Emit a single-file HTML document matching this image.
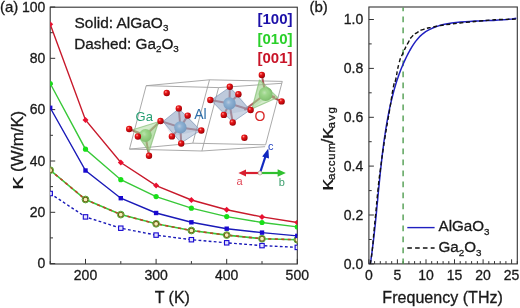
<!DOCTYPE html>
<html><head><meta charset="utf-8"><title>AlGaO3 thermal conductivity</title>
<style>
html,body{margin:0;padding:0;background:#fff;}
body{width:520px;height:308px;overflow:hidden;}
svg{display:block;font-family:"Liberation Sans",Arial,sans-serif;}
text{stroke:#1a1a1a;stroke-width:0.3px;}
.c14,.c14o,.t11,.b14{stroke:none;}
.t14{font-size:14px;fill:#1a1a1a;}
.t145{font-size:15.2px;fill:#1a1a1a;}
.t15{font-size:15.3px;fill:#1a1a1a;}
.t15b{font-size:15px;fill:#1a1a1a;}
.t16{font-size:16px;fill:#1a1a1a;}
.t17{font-size:17px;fill:#1a1a1a;}
.sub3{font-size:12.5px;}
.sub3t{font-size:11.5px;fill:#1a1a1a;}
.t11{font-size:11px;}
.c14{font-size:13.2px;}
.c14o{font-size:14px;}
.b14{font-size:15px;font-weight:bold;}
.sub{font-size:9.8px;}
.sub2{font-size:11px;}
</style></head>
<body>
<svg width="520" height="308" viewBox="0 0 520 308">
<rect width="520" height="308" fill="#fff"/>
<rect x="50.2" y="7.2" width="247.1" height="256.8" fill="none" stroke="#333" stroke-width="1.1"/>
<line x1="50.2" y1="263.6" x2="55.2" y2="263.6" stroke="#333" stroke-width="1"/>
<line x1="50.2" y1="237.9" x2="53.0" y2="237.9" stroke="#333" stroke-width="1"/>
<line x1="50.2" y1="212.3" x2="55.2" y2="212.3" stroke="#333" stroke-width="1"/>
<line x1="50.2" y1="186.6" x2="53.0" y2="186.6" stroke="#333" stroke-width="1"/>
<line x1="50.2" y1="161.0" x2="55.2" y2="161.0" stroke="#333" stroke-width="1"/>
<line x1="50.2" y1="135.3" x2="53.0" y2="135.3" stroke="#333" stroke-width="1"/>
<line x1="50.2" y1="109.6" x2="55.2" y2="109.6" stroke="#333" stroke-width="1"/>
<line x1="50.2" y1="84.0" x2="53.0" y2="84.0" stroke="#333" stroke-width="1"/>
<line x1="50.2" y1="58.3" x2="55.2" y2="58.3" stroke="#333" stroke-width="1"/>
<line x1="50.2" y1="32.7" x2="53.0" y2="32.7" stroke="#333" stroke-width="1"/>
<line x1="50.2" y1="7.0" x2="55.2" y2="7.0" stroke="#333" stroke-width="1"/>
<line x1="50.2" y1="263.90000000000003" x2="50.2" y2="261.1" stroke="#333" stroke-width="1"/>
<line x1="85.5" y1="263.90000000000003" x2="85.5" y2="258.90000000000003" stroke="#333" stroke-width="1"/>
<line x1="120.8" y1="263.90000000000003" x2="120.8" y2="261.1" stroke="#333" stroke-width="1"/>
<line x1="156.1" y1="263.90000000000003" x2="156.1" y2="258.90000000000003" stroke="#333" stroke-width="1"/>
<line x1="191.4" y1="263.90000000000003" x2="191.4" y2="261.1" stroke="#333" stroke-width="1"/>
<line x1="226.7" y1="263.90000000000003" x2="226.7" y2="258.90000000000003" stroke="#333" stroke-width="1"/>
<line x1="262.0" y1="263.90000000000003" x2="262.0" y2="261.1" stroke="#333" stroke-width="1"/>
<line x1="297.3" y1="263.90000000000003" x2="297.3" y2="258.90000000000003" stroke="#333" stroke-width="1"/>
<text x="45.300000000000004" y="268.3" text-anchor="end" class="t14">0</text>
<text x="45.300000000000004" y="217.0" text-anchor="end" class="t14">20</text>
<text x="45.300000000000004" y="165.7" text-anchor="end" class="t14">40</text>
<text x="45.300000000000004" y="114.3" text-anchor="end" class="t14">60</text>
<text x="45.300000000000004" y="63.0" text-anchor="end" class="t14">80</text>
<text x="45.300000000000004" y="11.7" text-anchor="end" class="t14">100</text>
<text x="85.5" y="280" text-anchor="middle" class="t14">200</text>
<text x="156.1" y="280" text-anchor="middle" class="t14">300</text>
<text x="226.7" y="280" text-anchor="middle" class="t14">400</text>
<text x="297.3" y="280" text-anchor="middle" class="t14">500</text>
<text x="172.3" y="303.1" text-anchor="middle" class="t16">T (K)</text>
<g transform="translate(23.4,0) rotate(-90)"><text transform="translate(-190.1,0) scale(1.45,1)" x="0" y="0" class="t17" style="font-size:18.3px;stroke-width:0.1px">κ</text><text x="-172" y="0" textLength="61.2" class="t17">(W/m/K)</text></g>
<text x="0" y="12.4" class="t15b">(a)</text>
<defs><clipPath id="clipL"><rect x="50.2" y="7.0" width="247.1" height="256.6"/></clipPath><clipPath id="clipR"><rect x="368.9" y="7.0" width="148.4" height="256.9"/></clipPath></defs>
<g clip-path="url(#clipL)">
<polyline points="50.2,193.5 85.5,216.9 120.8,228.2 156.1,235.1 191.4,239.7 226.7,242.8 262.0,245.6 297.3,247.4" fill="none" stroke="#1a1ab8" stroke-width="1.4" stroke-dasharray="2.8 2.3"/>
<polyline points="50.2,170.2 85.5,199.5 120.8,214.6 156.1,223.8 191.4,230.5 226.7,235.1 262.0,238.7 297.3,239.7" fill="none" stroke="#38c838" stroke-width="1.6"/>
<polyline points="50.2,170.2 85.5,199.5 120.8,214.6 156.1,223.8 191.4,230.5 226.7,235.1 262.0,238.7 297.3,239.7" fill="none" stroke="#c0442a" stroke-width="1.6" stroke-dasharray="3.1 3.4"/>
<rect x="48.0" y="191.3" width="4.4" height="4.4" fill="#e4e4ff" stroke="#1808d0" stroke-width="1.1"/>
<rect x="83.3" y="214.7" width="4.4" height="4.4" fill="#e4e4ff" stroke="#1808d0" stroke-width="1.1"/>
<rect x="118.6" y="226.0" width="4.4" height="4.4" fill="#e4e4ff" stroke="#1808d0" stroke-width="1.1"/>
<rect x="153.9" y="232.9" width="4.4" height="4.4" fill="#e4e4ff" stroke="#1808d0" stroke-width="1.1"/>
<rect x="189.2" y="237.5" width="4.4" height="4.4" fill="#e4e4ff" stroke="#1808d0" stroke-width="1.1"/>
<rect x="224.5" y="240.6" width="4.4" height="4.4" fill="#e4e4ff" stroke="#1808d0" stroke-width="1.1"/>
<rect x="259.8" y="243.4" width="4.4" height="4.4" fill="#e4e4ff" stroke="#1808d0" stroke-width="1.1"/>
<rect x="295.1" y="245.2" width="4.4" height="4.4" fill="#e4e4ff" stroke="#1808d0" stroke-width="1.1"/>
<circle cx="50.2" cy="170.2" r="3.4" fill="#f4f0b8" stroke="#3aa828" stroke-width="0.9"/>
<circle cx="50.2" cy="170.2" r="2.4" fill="none" stroke="#6a6418" stroke-width="1.1"/>
<circle cx="85.5" cy="199.5" r="3.4" fill="#f4f0b8" stroke="#3aa828" stroke-width="0.9"/>
<circle cx="85.5" cy="199.5" r="2.4" fill="none" stroke="#6a6418" stroke-width="1.1"/>
<circle cx="120.8" cy="214.6" r="3.4" fill="#f4f0b8" stroke="#3aa828" stroke-width="0.9"/>
<circle cx="120.8" cy="214.6" r="2.4" fill="none" stroke="#6a6418" stroke-width="1.1"/>
<circle cx="156.1" cy="223.8" r="3.4" fill="#f4f0b8" stroke="#3aa828" stroke-width="0.9"/>
<circle cx="156.1" cy="223.8" r="2.4" fill="none" stroke="#6a6418" stroke-width="1.1"/>
<circle cx="191.4" cy="230.5" r="3.4" fill="#f4f0b8" stroke="#3aa828" stroke-width="0.9"/>
<circle cx="191.4" cy="230.5" r="2.4" fill="none" stroke="#6a6418" stroke-width="1.1"/>
<circle cx="226.7" cy="235.1" r="3.4" fill="#f4f0b8" stroke="#3aa828" stroke-width="0.9"/>
<circle cx="226.7" cy="235.1" r="2.4" fill="none" stroke="#6a6418" stroke-width="1.1"/>
<circle cx="262.0" cy="238.7" r="3.4" fill="#f4f0b8" stroke="#3aa828" stroke-width="0.9"/>
<circle cx="262.0" cy="238.7" r="2.4" fill="none" stroke="#6a6418" stroke-width="1.1"/>
<circle cx="297.3" cy="239.7" r="3.4" fill="#f4f0b8" stroke="#3aa828" stroke-width="0.9"/>
<circle cx="297.3" cy="239.7" r="2.4" fill="none" stroke="#6a6418" stroke-width="1.1"/>
<polyline points="50.2,107.8 85.5,170.5 120.8,198.2 156.1,213.0 191.4,222.3 226.7,228.7 262.0,232.6 297.3,235.9" fill="none" stroke="#1a1ab8" stroke-width="1.4"/>
<polyline points="50.2,83.5 85.5,149.2 120.8,179.7 156.1,196.6 191.4,208.2 226.7,216.6 262.0,222.5 297.3,226.9" fill="none" stroke="#38c838" stroke-width="1.4"/>
<polyline points="50.2,24.2 85.5,119.9 120.8,162.5 156.1,185.6 191.4,200.0 226.7,209.7 262.0,216.9 297.3,222.5" fill="none" stroke="#c81a2c" stroke-width="1.4"/>
<rect x="48.0" y="105.6" width="4.4" height="4.4" fill="#1808d0"/>
<rect x="83.3" y="168.3" width="4.4" height="4.4" fill="#1808d0"/>
<rect x="118.6" y="196.0" width="4.4" height="4.4" fill="#1808d0"/>
<rect x="153.9" y="210.8" width="4.4" height="4.4" fill="#1808d0"/>
<rect x="189.2" y="220.1" width="4.4" height="4.4" fill="#1808d0"/>
<rect x="224.5" y="226.5" width="4.4" height="4.4" fill="#1808d0"/>
<rect x="259.8" y="230.4" width="4.4" height="4.4" fill="#1808d0"/>
<rect x="295.1" y="233.7" width="4.4" height="4.4" fill="#1808d0"/>
<circle cx="50.2" cy="83.5" r="2.6" fill="#18e018"/>
<circle cx="85.5" cy="149.2" r="2.6" fill="#18e018"/>
<circle cx="120.8" cy="179.7" r="2.6" fill="#18e018"/>
<circle cx="156.1" cy="196.6" r="2.6" fill="#18e018"/>
<circle cx="191.4" cy="208.2" r="2.6" fill="#18e018"/>
<circle cx="226.7" cy="216.6" r="2.6" fill="#18e018"/>
<circle cx="262.0" cy="222.5" r="2.6" fill="#18e018"/>
<circle cx="297.3" cy="226.9" r="2.6" fill="#18e018"/>
<polygon points="50.2,21.2 53.2,24.2 50.2,27.2 47.2,24.2" fill="#ea1030"/>
<polygon points="85.5,116.9 88.5,119.9 85.5,122.9 82.5,119.9" fill="#ea1030"/>
<polygon points="120.8,159.5 123.8,162.5 120.8,165.5 117.8,162.5" fill="#ea1030"/>
<polygon points="156.1,182.6 159.1,185.6 156.1,188.6 153.1,185.6" fill="#ea1030"/>
<polygon points="191.4,197.0 194.4,200.0 191.4,203.0 188.4,200.0" fill="#ea1030"/>
<polygon points="226.7,206.7 229.7,209.7 226.7,212.7 223.7,209.7" fill="#ea1030"/>
<polygon points="262.0,213.9 265.0,216.9 262.0,219.9 259.0,216.9" fill="#ea1030"/>
<polygon points="297.3,219.5 300.3,222.5 297.3,225.5 294.3,222.5" fill="#ea1030"/>
</g>
<text x="74.5" y="27.8" class="t15" style="font-size:15.45px">Solid: AlGaO<tspan class="sub" dy="3.3">3</tspan></text>
<text x="74.3" y="48.7" class="t15">Dashed: Ga<tspan class="sub" dy="3.3">2</tspan><tspan dy="-3.3">O</tspan><tspan class="sub" dy="3.3">3</tspan></text>
<text x="292.5" y="24.2" text-anchor="end" class="b14" fill="#1c10a8">[100]</text>
<text x="292.5" y="43.5" text-anchor="end" class="b14" fill="#2ad02a">[010]</text>
<text x="292.5" y="62.8" text-anchor="end" class="b14" fill="#c81428">[001]</text>
<polyline points="146.2,85.7 209.5,79.8 282.3,81.4" fill="none" stroke="#a0a0a0" stroke-width="0.9"/>
<polyline points="146.2,85.7 218.6,87.6 281.8,83.3" fill="none" stroke="#a0a0a0" stroke-width="0.9"/>
<polyline points="129.5,149.1 192.8,143.2 265.6,144.8" fill="none" stroke="#a0a0a0" stroke-width="0.9"/>
<polyline points="129.5,149.1 201.9,151.0 265.1,146.7" fill="none" stroke="#a0a0a0" stroke-width="0.9"/>
<polyline points="146.2,85.7 129.5,149.1" fill="none" stroke="#a0a0a0" stroke-width="0.9"/>
<polyline points="209.5,79.8 192.8,143.2" fill="none" stroke="#a0a0a0" stroke-width="0.9"/>
<polyline points="218.6,87.6 201.9,151.0" fill="none" stroke="#a0a0a0" stroke-width="0.9"/>
<polyline points="282.3,81.4 265.6,144.8" fill="none" stroke="#a0a0a0" stroke-width="0.9"/>
<defs><radialGradient id="gO" cx="0.36" cy="0.33" r="0.72"><stop offset="0" stop-color="#ffa0a0"/><stop offset="0.3" stop-color="#e81818"/><stop offset="0.85" stop-color="#b00008"/><stop offset="1" stop-color="#800000"/></radialGradient><radialGradient id="gGa" cx="0.42" cy="0.4" r="0.66"><stop offset="0" stop-color="#f4fff0"/><stop offset="0.3" stop-color="#9ee08a"/><stop offset="1" stop-color="#4a9a38"/></radialGradient><radialGradient id="gAl" cx="0.42" cy="0.4" r="0.66"><stop offset="0" stop-color="#f4fbff"/><stop offset="0.3" stop-color="#86c0e8"/><stop offset="1" stop-color="#3c7cb0"/></radialGradient></defs>
<line x1="145.4" y1="135.5" x2="160.5" y2="121" stroke="#a04444" stroke-width="2" stroke-opacity="0.85"/>
<line x1="145.4" y1="135.5" x2="129.2" y2="129" stroke="#a04444" stroke-width="2" stroke-opacity="0.85"/>
<line x1="145.4" y1="135.5" x2="149" y2="155.8" stroke="#a04444" stroke-width="2" stroke-opacity="0.85"/>
<line x1="145.4" y1="135.5" x2="137.9" y2="136.5" stroke="#a04444" stroke-width="2" stroke-opacity="0.85"/>
<line x1="265.4" y1="94" x2="261.8" y2="74.9" stroke="#a04444" stroke-width="2" stroke-opacity="0.85"/>
<line x1="265.4" y1="94" x2="281.6" y2="101.4" stroke="#a04444" stroke-width="2" stroke-opacity="0.85"/>
<line x1="265.4" y1="94" x2="244.4" y2="110" stroke="#a04444" stroke-width="2" stroke-opacity="0.85"/>
<line x1="265.4" y1="94" x2="275" y2="97" stroke="#a04444" stroke-width="2" stroke-opacity="0.85"/>
<line x1="180.4" y1="127.4" x2="178.8" y2="108.4" stroke="#a04444" stroke-width="2" stroke-opacity="0.85"/>
<line x1="180.4" y1="127.4" x2="187.7" y2="115.6" stroke="#a04444" stroke-width="2" stroke-opacity="0.85"/>
<line x1="180.4" y1="127.4" x2="201.3" y2="130.5" stroke="#a04444" stroke-width="2" stroke-opacity="0.85"/>
<line x1="180.4" y1="127.4" x2="171.9" y2="136.4" stroke="#a04444" stroke-width="2" stroke-opacity="0.85"/>
<line x1="180.4" y1="127.4" x2="181.2" y2="143.5" stroke="#a04444" stroke-width="2" stroke-opacity="0.85"/>
<line x1="180.4" y1="127.4" x2="160.5" y2="121" stroke="#a04444" stroke-width="2" stroke-opacity="0.85"/>
<line x1="229.5" y1="103.5" x2="229.8" y2="86.8" stroke="#a04444" stroke-width="2" stroke-opacity="0.85"/>
<line x1="229.5" y1="103.5" x2="238.4" y2="94.3" stroke="#a04444" stroke-width="2" stroke-opacity="0.85"/>
<line x1="229.5" y1="103.5" x2="250.6" y2="110" stroke="#a04444" stroke-width="2" stroke-opacity="0.85"/>
<line x1="229.5" y1="103.5" x2="223.8" y2="114.9" stroke="#a04444" stroke-width="2" stroke-opacity="0.85"/>
<line x1="229.5" y1="103.5" x2="232.7" y2="122.5" stroke="#a04444" stroke-width="2" stroke-opacity="0.85"/>
<line x1="229.5" y1="103.5" x2="210.5" y2="100" stroke="#a04444" stroke-width="2" stroke-opacity="0.85"/>
<circle cx="145.4" cy="135.5" r="6.4" fill="url(#gGa)"/>
<circle cx="265.6" cy="94" r="7" fill="url(#gGa)"/>
<circle cx="180.4" cy="127.4" r="6.2" fill="url(#gAl)"/>
<circle cx="229.5" cy="103.5" r="6.2" fill="url(#gAl)"/>
<polygon points="158.5,121.8 133.5,129.5 149,151.5" fill="#a8d898" fill-opacity="0.5" stroke="#88c078" stroke-width="1.2" stroke-opacity="0.7" stroke-linejoin="round"/>
<polygon points="158.5,121.8 139,137 149,151.5" fill="#8cc878" fill-opacity="0.3"/>
<polygon points="259.5,80 277.5,97.5 252,108.8" fill="#a8d898" fill-opacity="0.5" stroke="#88c078" stroke-width="1.2" stroke-opacity="0.7" stroke-linejoin="round"/>
<polygon points="259.5,80 270,95.5 252,108.8" fill="#8cc878" fill-opacity="0.25"/>
<polygon points="178.8,108.8 200.5,130.3 181.2,143 163,121.5" fill="#9cb0cc" fill-opacity="0.5" stroke="#7890b0" stroke-width="0.8" stroke-opacity="0.8"/>
<polygon points="178.8,108.8 187.7,115.6 200.5,130.3 171.9,136.4 163,121.5" fill="#8aa0c0" fill-opacity="0.22"/>
<polygon points="229.8,87.2 250,110 232.7,122 211,100.3" fill="#9cb0cc" fill-opacity="0.5" stroke="#7890b0" stroke-width="0.8" stroke-opacity="0.8"/>
<polygon points="229.8,87.2 238.4,94.3 250,110 223.8,114.9 211,100.3" fill="#8aa0c0" fill-opacity="0.22"/>
<circle cx="166.7" cy="93" r="3.2" fill="url(#gO)"/>
<circle cx="160.5" cy="121" r="3.2" fill="url(#gO)"/>
<circle cx="129.2" cy="129" r="3.2" fill="url(#gO)"/>
<circle cx="137.9" cy="136.5" r="3.2" fill="url(#gO)"/>
<circle cx="149" cy="155.8" r="3.2" fill="url(#gO)"/>
<circle cx="178.8" cy="108.4" r="3.2" fill="url(#gO)"/>
<circle cx="187.7" cy="115.6" r="3.2" fill="url(#gO)"/>
<circle cx="201.3" cy="130.5" r="3.2" fill="url(#gO)"/>
<circle cx="171.9" cy="136.4" r="3.2" fill="url(#gO)"/>
<circle cx="181.2" cy="143.5" r="3.2" fill="url(#gO)"/>
<circle cx="210.3" cy="100" r="3.2" fill="url(#gO)"/>
<circle cx="229.8" cy="86.8" r="3.2" fill="url(#gO)"/>
<circle cx="238.4" cy="94.3" r="3.2" fill="url(#gO)"/>
<circle cx="250.6" cy="110" r="3.2" fill="url(#gO)"/>
<circle cx="223.8" cy="114.9" r="3.2" fill="url(#gO)"/>
<circle cx="232.7" cy="122.5" r="3.2" fill="url(#gO)"/>
<circle cx="244.4" cy="137.7" r="3.2" fill="url(#gO)"/>
<circle cx="261.8" cy="74.9" r="3.2" fill="url(#gO)"/>
<circle cx="281.6" cy="101.4" r="3.2" fill="url(#gO)"/>
<text x="135.6" y="121.3" class="c14" style="fill:#259e72;font-size:13px">Ga</text>
<text x="194.2" y="119" class="c14" style="fill:#2e6ea8;font-size:14px">Al</text>
<text x="254.6" y="120.8" class="c14o" style="fill:#d82828">O</text>
<line x1="260" y1="173" x2="244" y2="173" stroke="#d82030" stroke-width="2.2"/>
<polygon points="238.4,173 246,169.4 246,176.6" fill="#d82030"/>
<line x1="260" y1="173" x2="278" y2="173" stroke="#30c030" stroke-width="2.2"/>
<polygon points="285.8,173 277.6,169.3 277.6,176.7" fill="#30c030"/>
<line x1="260" y1="173" x2="265.6" y2="156" stroke="#1028c0" stroke-width="2.2"/>
<polygon points="268.3,148.4 262.2,156.4 269,158.4" fill="#1028c0"/>
<circle cx="260" cy="173" r="2" fill="#f4f0e8" stroke="#a09080" stroke-width="0.6"/>
<text x="239.6" y="185.2" text-anchor="middle" class="t11" style="fill:#e04858">a</text>
<text x="281.8" y="185.8" text-anchor="middle" class="t11" style="fill:#40a070">b</text>
<text x="270.8" y="149.8" text-anchor="middle" class="t11" style="fill:#2040c0">c</text>
<rect x="368.9" y="7.0" width="148.4" height="256.9" fill="none" stroke="#333" stroke-width="1.1"/>
<line x1="368.9" y1="263.9" x2="373.9" y2="263.9" stroke="#333" stroke-width="1"/>
<line x1="368.9" y1="239.5" x2="371.7" y2="239.5" stroke="#333" stroke-width="1"/>
<line x1="368.9" y1="215.0" x2="373.9" y2="215.0" stroke="#333" stroke-width="1"/>
<line x1="368.9" y1="190.6" x2="371.7" y2="190.6" stroke="#333" stroke-width="1"/>
<line x1="368.9" y1="166.1" x2="373.9" y2="166.1" stroke="#333" stroke-width="1"/>
<line x1="368.9" y1="141.7" x2="371.7" y2="141.7" stroke="#333" stroke-width="1"/>
<line x1="368.9" y1="117.3" x2="373.9" y2="117.3" stroke="#333" stroke-width="1"/>
<line x1="368.9" y1="92.8" x2="371.7" y2="92.8" stroke="#333" stroke-width="1"/>
<line x1="368.9" y1="68.4" x2="373.9" y2="68.4" stroke="#333" stroke-width="1"/>
<line x1="368.9" y1="43.9" x2="371.7" y2="43.9" stroke="#333" stroke-width="1"/>
<line x1="368.9" y1="19.5" x2="373.9" y2="19.5" stroke="#333" stroke-width="1"/>
<line x1="368.9" y1="263.9" x2="368.9" y2="259.29999999999995" stroke="#333" stroke-width="1"/>
<line x1="374.6" y1="263.9" x2="374.6" y2="261.09999999999997" stroke="#333" stroke-width="1"/>
<line x1="380.3" y1="263.9" x2="380.3" y2="261.09999999999997" stroke="#333" stroke-width="1"/>
<line x1="386.0" y1="263.9" x2="386.0" y2="261.09999999999997" stroke="#333" stroke-width="1"/>
<line x1="391.7" y1="263.9" x2="391.7" y2="261.09999999999997" stroke="#333" stroke-width="1"/>
<line x1="397.4" y1="263.9" x2="397.4" y2="259.29999999999995" stroke="#333" stroke-width="1"/>
<line x1="403.1" y1="263.9" x2="403.1" y2="261.09999999999997" stroke="#333" stroke-width="1"/>
<line x1="408.9" y1="263.9" x2="408.9" y2="261.09999999999997" stroke="#333" stroke-width="1"/>
<line x1="414.6" y1="263.9" x2="414.6" y2="261.09999999999997" stroke="#333" stroke-width="1"/>
<line x1="420.3" y1="263.9" x2="420.3" y2="261.09999999999997" stroke="#333" stroke-width="1"/>
<line x1="426.0" y1="263.9" x2="426.0" y2="259.29999999999995" stroke="#333" stroke-width="1"/>
<line x1="431.7" y1="263.9" x2="431.7" y2="261.09999999999997" stroke="#333" stroke-width="1"/>
<line x1="437.4" y1="263.9" x2="437.4" y2="261.09999999999997" stroke="#333" stroke-width="1"/>
<line x1="443.1" y1="263.9" x2="443.1" y2="261.09999999999997" stroke="#333" stroke-width="1"/>
<line x1="448.8" y1="263.9" x2="448.8" y2="261.09999999999997" stroke="#333" stroke-width="1"/>
<line x1="454.5" y1="263.9" x2="454.5" y2="259.29999999999995" stroke="#333" stroke-width="1"/>
<line x1="460.2" y1="263.9" x2="460.2" y2="261.09999999999997" stroke="#333" stroke-width="1"/>
<line x1="465.9" y1="263.9" x2="465.9" y2="261.09999999999997" stroke="#333" stroke-width="1"/>
<line x1="471.6" y1="263.9" x2="471.6" y2="261.09999999999997" stroke="#333" stroke-width="1"/>
<line x1="477.4" y1="263.9" x2="477.4" y2="261.09999999999997" stroke="#333" stroke-width="1"/>
<line x1="483.1" y1="263.9" x2="483.1" y2="259.29999999999995" stroke="#333" stroke-width="1"/>
<line x1="488.8" y1="263.9" x2="488.8" y2="261.09999999999997" stroke="#333" stroke-width="1"/>
<line x1="494.5" y1="263.9" x2="494.5" y2="261.09999999999997" stroke="#333" stroke-width="1"/>
<line x1="500.2" y1="263.9" x2="500.2" y2="261.09999999999997" stroke="#333" stroke-width="1"/>
<line x1="505.9" y1="263.9" x2="505.9" y2="261.09999999999997" stroke="#333" stroke-width="1"/>
<line x1="511.6" y1="263.9" x2="511.6" y2="259.29999999999995" stroke="#333" stroke-width="1"/>
<line x1="517.3" y1="263.9" x2="517.3" y2="261.09999999999997" stroke="#333" stroke-width="1"/>
<text x="363.29999999999995" y="268.6" text-anchor="end" class="t14">0.0</text>
<text x="363.29999999999995" y="219.7" text-anchor="end" class="t14">0.2</text>
<text x="363.29999999999995" y="170.8" text-anchor="end" class="t14">0.4</text>
<text x="363.29999999999995" y="122.0" text-anchor="end" class="t14">0.6</text>
<text x="363.29999999999995" y="73.1" text-anchor="end" class="t14">0.8</text>
<text x="363.29999999999995" y="24.2" text-anchor="end" class="t14">1.0</text>
<text x="368.9" y="280" text-anchor="middle" class="t14">0</text>
<text x="397.4" y="280" text-anchor="middle" class="t14">5</text>
<text x="426.0" y="280" text-anchor="middle" class="t14">10</text>
<text x="454.5" y="280" text-anchor="middle" class="t14">15</text>
<text x="483.1" y="280" text-anchor="middle" class="t14">20</text>
<text x="511.6" y="280" text-anchor="middle" class="t14">25</text>
<text x="442.6" y="303.4" text-anchor="middle" class="t16" textLength="120.5">Frequency (THz)</text>
<text x="309.4" y="11.8" class="t15b">(b)</text>
<g transform="translate(333,0) rotate(-90)"><text transform="translate(-190.8,0) scale(1.3,1)" x="0" y="0" class="t17" style="font-size:18px;stroke-width:0.1px">κ</text><text x="-180" y="2.4" class="sub3t" textLength="37">accum</text><text x="-143.6" y="0" class="t17">/</text><text transform="translate(-139.2,0) scale(1.3,1)" x="0" y="0" class="t17" style="font-size:18px;stroke-width:0.1px">κ</text><text x="-128.6" y="2" class="sub3t" textLength="21.6">avg</text></g>
<line x1="403.1" y1="7.6" x2="403.1" y2="263.9" stroke="#4a9a4a" stroke-width="1.35" stroke-dasharray="5.8 5.2" stroke-dashoffset="2.2"/>
<g clip-path="url(#clipR)">
<polyline points="370.3,263.7 371.0,259.4 371.6,255.1 372.2,250.7 372.7,246.3 373.3,241.9 373.8,237.5 374.3,233.0 374.8,228.5 375.3,224.1 375.7,219.6 376.2,215.1 376.6,210.6 377.0,206.0 377.5,201.5 377.9,197.0 378.3,192.5 378.8,188.0 379.2,183.4 379.7,178.9 380.1,174.4 380.6,169.9 381.1,165.5 381.6,161.0 382.1,156.6 382.6,152.1 383.2,147.7 383.7,143.4 384.3,139.0 385.0,134.7 385.6,130.4 386.3,126.1 387.0,121.9 387.8,117.7 388.6,113.5 389.4,109.4 390.3,105.3 391.2,101.3 392.2,97.3 393.2,93.4 394.2,89.5 395.4,85.6 396.5,81.8 397.8,78.1 399.0,74.4 400.4,70.8 401.8,67.3 403.3,63.8 404.8,60.4 406.4,57.0 408.1,53.7 409.8,50.5 411.6,47.4 413.5,44.4 415.6,41.4 417.8,38.7 420.2,36.1 422.8,33.8 425.7,31.7 428.8,29.9 432.1,28.3 435.7,26.8 439.4,25.6 443.3,24.6 447.4,23.7 451.7,23.0 456.1,22.5 460.6,22.0 465.2,21.7 469.8,21.4 474.6,21.1 479.3,20.9 484.1,20.8 488.9,20.6 493.6,20.4 498.3,20.1 502.9,19.8 507.5,19.4 511.9,18.9 516.3,18.3" fill="none" stroke="#2020c0" stroke-width="1.5" stroke-linejoin="round"/>
<path d="M370.30,263.90 C370.63,261.93 370.53,263.63 371.30,258.00 C372.07,252.37 371.93,253.33 372.60,247.00 C373.27,240.67 372.80,244.67 373.30,239.00 C373.80,233.33 373.33,238.07 374.10,230.00 C374.87,221.93 374.30,228.30 375.60,214.80 C376.90,201.30 376.43,204.43 378.00,189.50 C379.57,174.57 378.10,186.50 380.30,170.00 C382.50,153.50 381.50,160.00 384.60,140.00 C387.70,120.00 386.67,127.67 389.60,110.00 C392.53,92.33 391.40,97.00 393.40,87.00 C395.40,77.00 393.73,87.87 395.60,80.00 C397.47,72.13 396.53,72.40 399.00,63.40 C401.47,54.40 399.93,59.93 403.00,53.00 C406.07,46.07 405.20,48.07 408.20,42.60 C411.20,37.13 408.90,40.03 412.00,36.60 C415.10,33.17 413.63,34.73 417.50,32.30 C421.37,29.87 418.30,31.07 423.60,29.30 C428.90,27.53 427.93,28.23 433.40,27.00 C438.87,25.77 434.47,26.53 440.00,25.60 C445.53,24.67 443.33,25.07 450.00,24.20 C456.67,23.33 453.33,23.73 460.00,23.00 C466.67,22.27 463.33,22.67 470.00,22.00 C476.67,21.33 473.33,21.63 480.00,21.00 C486.67,20.37 484.00,20.57 490.00,20.10 C496.00,19.63 488.67,19.93 498.00,19.60 C507.33,19.27 511.33,19.27 518.00,19.10" fill="none" stroke="#111" stroke-width="1.4" stroke-dasharray="4 2.6"/>
</g>
<line x1="407.3" y1="227.6" x2="434.6" y2="227.6" stroke="#2020c0" stroke-width="1.4"/>
<line x1="407.3" y1="248" x2="434.6" y2="248" stroke="#111" stroke-width="1.4" stroke-dasharray="4.6 3.2"/>
<text x="438.5" y="231.3" class="t145">AlGaO<tspan class="sub" dy="3.3">3</tspan></text>
<text x="438.5" y="252.3" class="t145">Ga<tspan class="sub" dy="3.3">2</tspan><tspan dy="-3.3">O</tspan><tspan class="sub" dy="3.3">3</tspan></text>
</svg>
</body></html>
